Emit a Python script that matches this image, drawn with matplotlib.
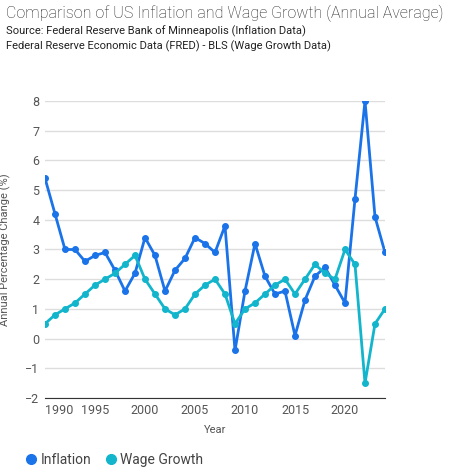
import matplotlib
matplotlib.use("Agg")
import matplotlib.pyplot as plt
from matplotlib.lines import Line2D

plt.rcParams['font.family'] = ['Roboto', 'DejaVu Sans']

years = list(range(1990, 2025))
inflation = [5.4,4.2,3.0,3.0,2.6,2.8,2.9,2.3,1.6,2.2,3.4,2.8,1.6,2.3,2.7,3.4,3.2,2.9,3.8,-0.4,
             1.6,3.2,2.1,1.5,1.6,0.1,1.3,2.1,2.4,1.8,1.2,4.7,8.0,4.1,2.9]
wage = [0.5,0.8,1.0,1.2,1.5,1.8,2.0,2.2,2.5,2.8,2.0,1.5,1.0,0.8,1.0,1.5,1.8,2.0,1.5,0.5,
        1.0,1.2,1.5,1.8,2.0,1.5,2.0,2.5,2.2,2.0,3.0,2.5,-1.5,0.5,1.0]
xticks = [1990, 1995, 2000, 2005, 2010, 2015, 2020]
yticks = list(range(-2, 9))

c_inf = '#1a73e8'
c_wage = '#12b5cb'

fig = plt.figure(figsize=(4.64, 4.73), dpi=100)
ax = fig.add_axes([45/464, 1-398/473, 340/464, 297/473])
ax.plot(years, inflation, color=c_inf, lw=2, marker='o', ms=4)
ax.plot(years, wage, color=c_wage, lw=2, marker='o', ms=4)
ax.set_xlim(1990, 2024)
ax.set_ylim(-2, 8)
ax.set_yticks(yticks)
ax.set_xticks(xticks)
ax.grid(axis='y', color='#dddddd', lw=1)
ax.set_axisbelow(True)
for s in ['top', 'right', 'left']:
    ax.spines[s].set_visible(False)
ax.spines['bottom'].set_color('#333333')
ax.tick_params(length=0, labelsize=9, colors='#555555', pad=4)
ax.get_xticklabels()[0].set_ha('left')
ax.set_xlabel('Year', fontsize=8, color='#555555', labelpad=6)
ax.set_ylabel('Annual Percentage Change (%)', fontsize=8, color='#555555', labelpad=10)

fig.text(6/464, 1-13/473, 'Comparison of US Inflation and Wage Growth (Annual Average)',
         fontsize=11.5, color='#222222', va='center', fontweight='light')
fig.text(6/464, 1-31/473, 'Source: Federal Reserve Bank of Minneapolis (Inflation Data)',
         fontsize=8, color='#222222', va='center')
fig.text(6/464, 1-46/473, 'Federal Reserve Economic Data (FRED) - BLS (Wage Growth Data)',
         fontsize=8, color='#222222', va='center')

handles = [Line2D([], [], ls='', marker='o', color=c_inf, ms=7),
           Line2D([], [], ls='', marker='o', color=c_wage, ms=7)]
fig.legend(handles, ['Inflation', 'Wage Growth'], loc='center left',
           bbox_to_anchor=(10/464, 1-460/473), ncol=2, frameon=False, fontsize=10,
           handletextpad=0.1, columnspacing=0.8, handlelength=1.2, labelcolor='#444444')
fig.savefig('out.png', dpi=100)
